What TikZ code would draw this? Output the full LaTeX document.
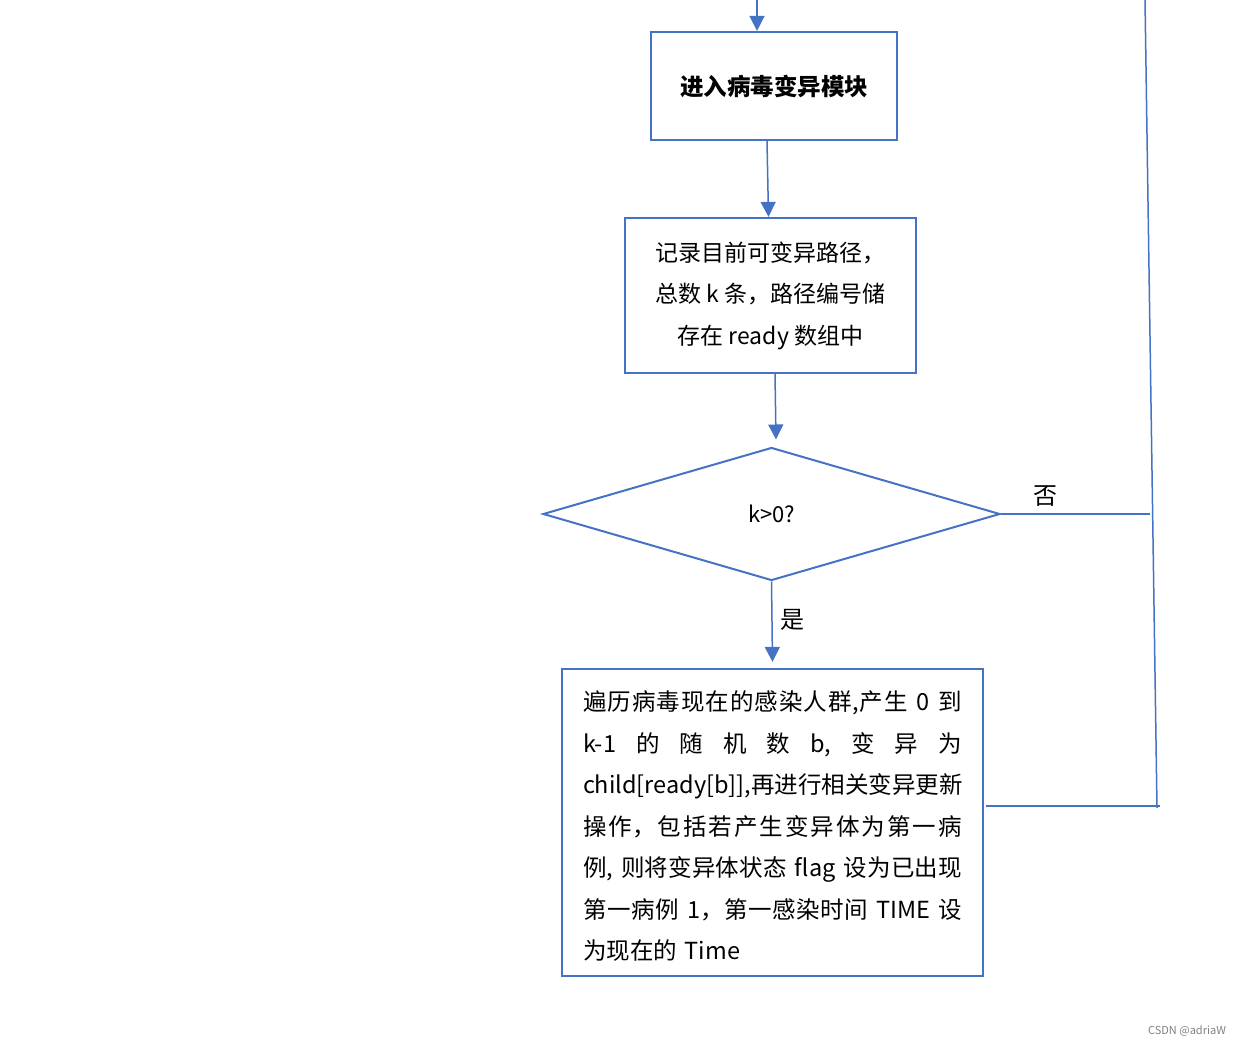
\documentclass[tikz,border=0pt]{standalone}
\usepackage{fontspec}
\setmainfont{Noto Sans CJK SC}
\usetikzlibrary{arrows.meta,shapes.geometric}

\definecolor{flowblue}{HTML}{4472C4}
\tikzset{
  stepbox/.style={draw=flowblue, line width=2.2pt, inner sep=0pt},
  link/.style={draw=flowblue, line width=1.5pt},
  arr/.style={link, -{Triangle[width=15pt,length=15pt]}},
}
\newcommand{\jline}[1]{\leavevmode\hbox to 379pt{#1}}
\newcommand{\g}{\hskip 0pt plus 1fil\relax}

\begin{document}
\begin{tikzpicture}[x=1pt,y=-1pt]
    \useasboundingbox (0,0) rectangle (1242,1046);
    % boxes
    \node[stepbox, minimum width=246pt, minimum height=108pt, font=\bfseries\fontsize{23.5}{28}\selectfont] (mod) at (774,86) {进入病毒变异模块};
    \node[stepbox, minimum width=291pt, minimum height=155pt, align=center, font=\fontsize{23}{41.5}\selectfont] (rec) at (770.5,295.5) {记录目前可变异路径，\\总数 k 条，路径编号储\\存在 ready 数组中};
    \node[diamond, draw=flowblue, line width=2pt, minimum width=457pt, minimum height=133pt, inner sep=0pt, font=\fontsize{22}{26}\selectfont] (chk) at (771.5,514) {k>0?};
    \node[stepbox, minimum width=421pt, minimum height=307pt, text width=379pt, align=left, font=\fontsize{23.5}{41.5}\selectfont] (mut) at (772.5,822.5) {%
        \jline{\rule{0pt}{31pt}遍\g 历\g 病\g 毒\g 现\g 在\g 的\g 感\g 染\g 人\g 群,\g 产\g 生\g{} 0 \g 到}\\
        \jline{k-1\g 的\g 随\g 机\g 数\g b,\g 变\g 异\g 为}\\
        \jline{child[ready[b]],再进行相关变异更新}\\
        \jline{操\g 作，\g 包\g 括\g 若\g 产\g 生\g 变\g 异\g 体\g 为\g 第\g 一\g 病}\\
        \jline{例,\g{} 则\g 将\g 变\g 异\g 体\g 状\g 态\g{} flag \g 设\g 为\g 已\g 出\g 现}\\
        \jline{第\g 一\g 病\g 例\g{} 1，\g 第\g 一\g 感\g 染\g 时\g 间\g{} TIME \g 设}\\
        为现在的 Time\vphantom{g}\rule[-3pt]{0pt}{0pt}};
    % arrows
    \coordinate (entry) at (757,0);
    \draw[arr] (entry) -- (mod.north -| entry);
    \draw[arr] ([xshift=-7pt]mod.south) -- ([xshift=-2pt]rec.north);
    \draw[arr] ([xshift=4.5pt]rec.south) -- ([xshift=4.5pt,yshift=7pt]chk.north);
    \draw[arr] (chk.south) -- ([yshift=6pt]mut.north) node[midway, right, xshift=4pt, yshift=2pt, font=\fontsize{24}{28}\selectfont] {是};
    % loop back on the right
    \coordinate (ltop) at (1145,0);
    \coordinate (lbot) at (1157,808);
    \coordinate (nojoin) at (1150,514);
    \coordinate (mutjoin) at (1160,806);
    \draw[link] (ltop) -- (lbot);
    \draw[link] (chk.east) -- (nojoin) node[pos=0.3, above, yshift=4pt, font=\fontsize{24}{28}\selectfont] {否};
    \draw[link] ([xshift=2pt]mut.east |- mutjoin) -- (mutjoin);
    % watermark
    \node[font=\fontsize{11}{12}\selectfont, text=gray] (mark) at (1187,1031) {CSDN @adriaW};
\end{tikzpicture}
\end{document}
